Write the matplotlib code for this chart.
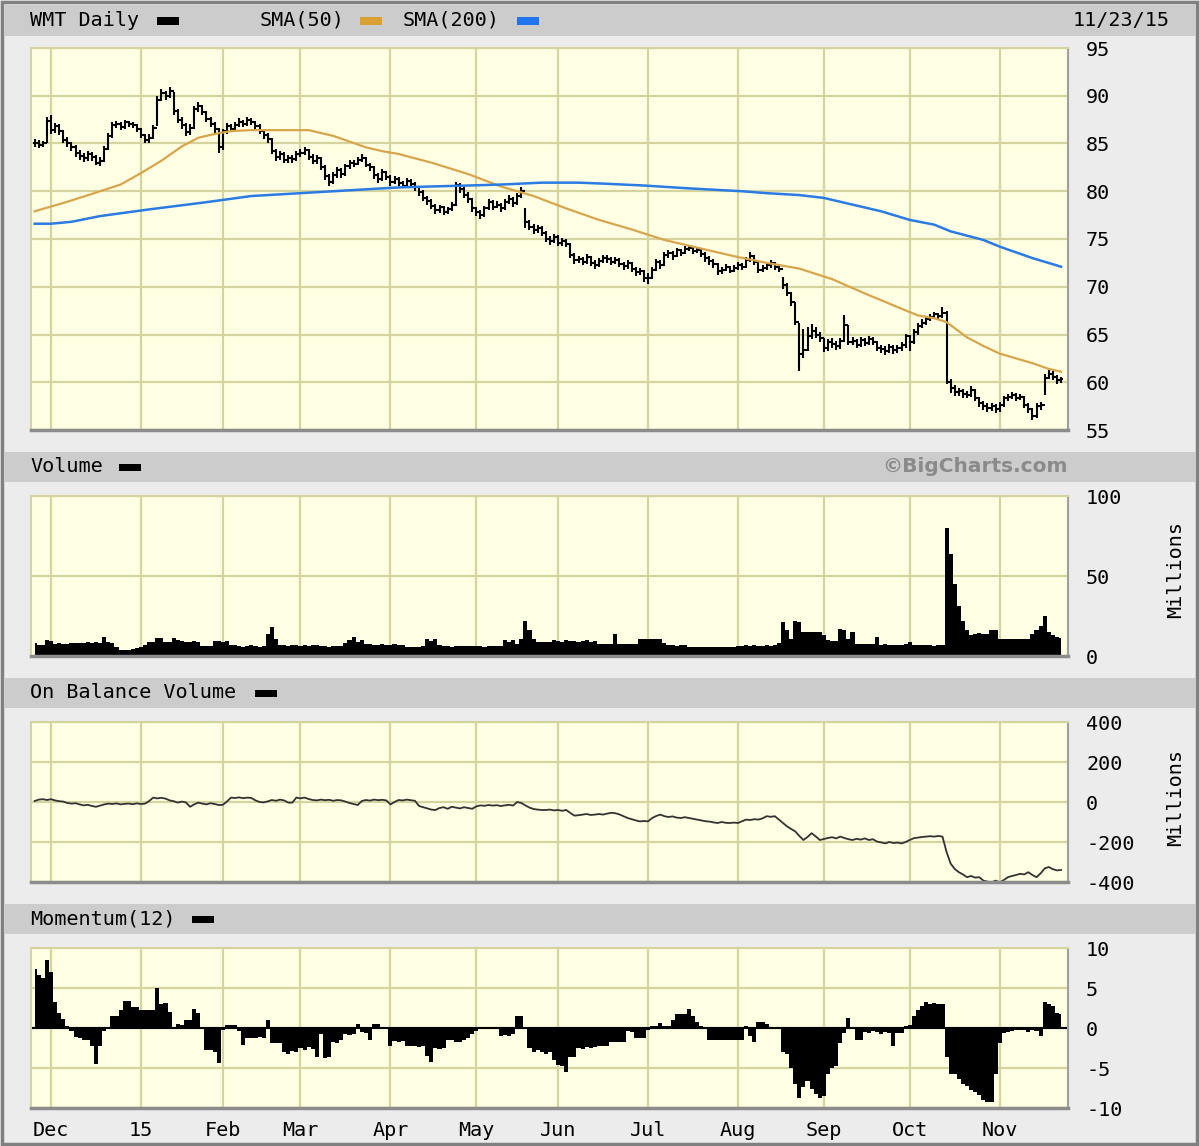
import matplotlib
matplotlib.use('Agg')
import matplotlib.pyplot as plt
from matplotlib.patches import Rectangle
import numpy as np
import pandas as pd

# trading calendar, Nov 24 2014 .. Nov 23 2015
holidays = ['2014-11-27', '2014-12-25', '2015-01-01', '2015-01-19', '2015-02-16',
            '2015-04-03', '2015-05-25', '2015-07-03', '2015-09-07']
days = pd.bdate_range('2014-11-24', '2015-11-23')
days = days[~days.isin(pd.to_datetime(holidays))]

month_starts = ['2014-12-01', '2015-01-01', '2015-02-01', '2015-03-01', '2015-04-01', '2015-05-01',
                '2015-06-01', '2015-07-01', '2015-08-01', '2015-09-01', '2015-10-01', '2015-11-01']
month_labels = ['Dec', '15', 'Feb', 'Mar', 'Apr', 'May', 'Jun', 'Jul', 'Aug', 'Sep', 'Oct', 'Nov']

# daily WMT prices
closes = [85.1, 84.8, 85.0, 87.4, 86.4, 86.8, 86.3, 85.4, 85.0, 84.6,
          84.0, 83.7, 83.5, 83.9, 83.6, 83.0, 83.2, 84.4, 85.8, 86.9,
          87.0, 86.7, 87.2, 87.0, 86.9, 86.5, 85.9, 85.4, 85.6, 86.6,
          89.6, 90.3, 90.0, 90.5, 88.4, 87.5, 86.9, 86.2, 86.6, 88.6,
          88.9, 88.3, 87.6, 87.0, 86.5, 84.6, 86.3, 86.8, 86.5, 86.9,
          87.3, 87.0, 87.5, 87.2, 86.8, 86.3, 85.9, 85.5, 84.2, 83.6,
          83.9, 83.3, 83.5, 83.4, 83.9, 84.0, 84.3, 83.6, 83.2, 83.5,
          82.5, 81.6, 81.0, 81.7, 82.2, 81.8, 82.6, 83.0, 82.9, 83.3,
          83.5, 82.8, 82.5, 81.7, 81.3, 82.0, 81.5, 81.0, 81.3, 80.9,
          80.6, 81.1, 80.8, 80.4, 79.9, 79.3, 79.0, 78.5, 78.0, 78.3,
          77.8, 78.1, 78.6, 80.7, 80.2, 79.6, 79.2, 78.2, 77.8, 77.5,
          78.2, 78.9, 78.4, 78.6, 78.2, 78.9, 79.2, 78.8, 79.5, 80.0,
          76.8, 76.3, 75.9, 76.2, 75.6, 75.0, 74.8, 75.2, 74.6, 74.8,
          74.5, 73.3, 72.8, 72.9, 72.6, 73.1, 72.5, 72.3, 72.7, 73.0,
          72.9, 72.6, 72.8, 72.4, 72.2, 72.5, 71.9, 71.5, 71.7, 70.9,
          70.9, 71.8, 72.6, 72.3, 73.3, 73.5, 73.2, 73.8, 73.5, 74.0,
          74.1, 73.7, 73.9, 73.4, 73.0, 72.7, 72.4, 71.6, 71.8, 72.1,
          71.7, 72.0, 72.3, 72.1, 72.8, 73.2, 72.6, 71.8, 72.0, 72.3,
          72.5, 72.1, 71.9, 70.2, 69.3, 68.4, 66.3, 63.0, 63.4, 64.8,
          65.4, 65.0, 64.6, 63.6, 64.2, 64.0, 63.8, 64.3, 66.0, 64.2,
          64.3, 63.9, 64.4, 64.1, 64.5, 64.2, 63.6, 63.5, 63.3, 63.7,
          63.4, 63.6, 63.9, 64.8, 64.2, 65.3, 65.9, 66.2, 66.6, 66.8,
          67.1, 66.9, 67.3, 60.0, 59.4, 59.0, 59.1, 58.8, 58.7, 59.2,
          58.3, 57.8, 57.5, 57.3, 57.5, 57.2, 57.6, 58.3, 58.5, 58.7,
          58.4, 58.5, 57.6, 57.2, 56.5, 57.5, 57.6, 60.4, 60.9, 60.6,
          60.2, 60.3]

highs = [85.5, 85.4, 85.3, 87.8, 88.0, 87.1, 87.0, 86.4, 85.7, 85.2,
         84.8, 84.3, 84.0, 84.2, 84.1, 83.8, 83.6, 84.7, 86.1, 87.2,
         87.4, 87.2, 87.5, 87.4, 87.3, 87.0, 86.6, 86.0, 86.0, 86.9,
         90.0, 90.7, 90.5, 90.9, 90.4, 88.6, 87.8, 87.1, 87.0, 88.9,
         89.3, 89.0, 88.4, 87.8, 87.2, 86.6, 86.5, 87.1, 87.0, 87.2,
         87.7, 87.5, 87.8, 87.7, 87.4, 87.0, 86.5, 86.1, 85.6, 84.4,
         84.2, 84.1, 83.8, 83.8, 84.2, 84.4, 84.6, 84.4, 83.9, 83.8,
         83.6, 82.7, 81.8, 82.0, 82.5, 82.4, 82.9, 83.3, 83.3, 83.6,
         83.9, 83.6, 83.0, 82.6, 81.9, 82.3, 82.1, 81.7, 81.6, 81.5,
         81.1, 81.4, 81.3, 81.0, 80.6, 80.1, 79.5, 79.2, 78.7, 78.6,
         78.5, 78.4, 78.9, 81.0, 80.9, 80.4, 79.9, 79.3, 78.4, 78.0,
         78.5, 79.2, 79.1, 79.0, 78.8, 79.2, 79.6, 79.4, 79.8, 80.4,
         78.2, 77.0, 76.6, 76.5, 76.4, 75.8, 75.3, 75.5, 75.4, 75.1,
         75.0, 74.6, 73.5, 73.2, 73.1, 73.4, 73.2, 72.8, 73.0, 73.3,
         73.3, 73.1, 73.1, 73.0, 72.6, 72.8, 72.6, 72.1, 72.0, 71.8,
         71.4, 72.1, 72.9, 72.8, 73.6, 73.9, 73.7, 74.1, 74.0, 74.3,
         74.4, 74.2, 74.2, 74.0, 73.6, 73.2, 72.9, 72.5, 72.1, 72.4,
         72.2, 72.3, 72.6, 72.5, 73.1, 73.6, 73.3, 72.7, 72.3, 72.6,
         72.8, 72.6, 72.4, 71.0, 70.4, 69.4, 68.4, 66.2, 65.6, 65.8,
         66.1, 65.8, 65.3, 64.6, 64.5, 64.6, 64.3, 64.6, 67.0, 66.0,
         64.7, 64.5, 64.7, 64.6, 64.8, 64.7, 64.3, 63.9, 63.8, 64.0,
         63.9, 63.9, 64.2, 65.1, 65.0, 65.6, 66.2, 66.6, 66.9, 67.1,
         67.4, 67.3, 67.9, 67.5, 60.3, 59.7, 59.4, 59.3, 59.1, 59.6,
         59.3, 58.5, 58.0, 57.8, 57.8, 57.7, 57.9, 58.6, 58.8, 59.0,
         58.9, 58.8, 58.6, 57.8, 57.3, 57.8, 57.9, 60.9, 61.3, 61.2,
         60.8, 60.6]

lows = [84.6, 84.5, 84.6, 85.0, 86.0, 86.1, 85.9, 85.1, 84.6, 84.2,
        83.6, 83.3, 83.1, 83.2, 83.2, 82.7, 82.6, 83.1, 84.3, 85.6,
        86.6, 86.4, 86.5, 86.7, 86.6, 86.2, 85.6, 85.0, 85.1, 85.5,
        86.8, 89.4, 89.6, 89.8, 88.0, 87.1, 86.5, 85.8, 85.9, 86.5,
        88.3, 88.0, 87.3, 86.7, 86.1, 84.0, 84.3, 86.0, 86.2, 86.3,
        86.7, 86.7, 86.8, 86.9, 86.5, 86.0, 85.5, 85.1, 83.9, 83.2,
        83.3, 83.0, 83.0, 83.0, 83.2, 83.6, 83.8, 83.3, 82.9, 82.9,
        82.2, 81.2, 80.5, 80.8, 81.4, 81.4, 81.6, 82.3, 82.5, 82.7,
        83.1, 82.5, 82.1, 81.3, 80.9, 81.1, 81.2, 80.6, 80.8, 80.5,
        80.3, 80.4, 80.5, 80.0, 79.5, 79.0, 78.6, 78.1, 77.6, 77.7,
        77.5, 77.6, 77.9, 78.5, 79.8, 79.3, 78.8, 77.8, 77.4, 77.1,
        77.3, 78.0, 78.0, 78.2, 77.8, 78.0, 78.7, 78.4, 78.6, 79.3,
        76.2, 75.9, 75.5, 75.6, 75.3, 74.7, 74.4, 74.6, 74.3, 74.3,
        74.2, 73.0, 72.4, 72.5, 72.3, 72.4, 72.2, 71.9, 72.1, 72.5,
        72.5, 72.3, 72.4, 72.1, 71.8, 71.9, 71.5, 71.1, 71.2, 70.5,
        70.3, 70.8, 71.7, 71.9, 72.2, 73.0, 72.8, 73.1, 73.2, 73.4,
        73.7, 73.4, 73.5, 73.1, 72.6, 72.3, 72.0, 71.2, 71.3, 71.6,
        71.4, 71.5, 71.8, 71.8, 72.0, 72.6, 72.3, 71.4, 71.5, 71.8,
        72.0, 71.8, 71.5, 69.8, 69.0, 68.0, 66.0, 61.2, 62.5, 63.3,
        64.5, 64.6, 64.2, 63.2, 63.3, 63.6, 63.4, 63.5, 64.2, 63.9,
        63.9, 63.6, 63.7, 63.8, 63.9, 63.9, 63.3, 63.1, 62.9, 63.1,
        63.0, 63.1, 63.3, 63.6, 63.3, 64.0, 65.0, 65.7, 66.0, 66.4,
        66.6, 66.5, 66.7, 59.8, 58.9, 58.6, 58.6, 58.4, 58.3, 58.5,
        58.0, 57.4, 57.1, 56.9, 57.0, 56.8, 56.9, 57.4, 58.0, 58.2,
        58.0, 58.1, 57.3, 56.8, 56.0, 56.3, 57.1, 58.7, 60.3, 60.2,
        59.8, 59.9]

# moving averages, read at a few dates
sma50_dates = ['2014-11-24', '2014-12-01', '2014-12-05', '2014-12-17', '2014-12-24', '2015-01-02',
               '2015-01-09', '2015-01-16', '2015-01-23', '2015-01-29', '2015-02-04', '2015-02-11',
               '2015-03-04', '2015-03-06', '2015-03-12', '2015-03-18', '2015-03-24', '2015-03-30',
               '2015-04-06', '2015-04-16', '2015-04-29', '2015-05-11', '2015-05-21', '2015-06-03',
               '2015-06-15', '2015-06-25', '2015-07-08', '2015-07-21', '2015-07-31', '2015-08-12',
               '2015-08-24', '2015-09-03', '2015-09-16', '2015-09-29', '2015-10-05', '2015-10-09',
               '2015-10-14', '2015-10-21', '2015-10-27', '2015-11-02', '2015-11-06', '2015-11-12',
               '2015-11-18', '2015-11-23']
sma50 = [77.9, 78.4, 78.9, 80.0, 80.7, 81.9, 83.2, 84.7, 85.6, 86.0, 86.3, 86.4,
         86.4, 86.2, 85.8, 85.2, 84.6, 84.2, 83.9, 83.0, 81.8, 80.5, 79.5, 78.2,
         77.0, 76.0, 74.9, 74.0, 73.2, 72.5, 71.9, 70.8, 69.3, 67.7, 67.0, 66.7,
         66.3, 64.7, 63.8, 63.0, 62.5, 62.0, 61.4, 61.1]

sma200_dates = ['2014-11-24', '2014-12-01', '2014-12-08', '2014-12-17', '2015-01-06', '2015-01-26',
                '2015-02-11', '2015-03-02', '2015-03-18', '2015-04-06', '2015-04-16', '2015-04-29',
                '2015-05-11', '2015-05-26', '2015-06-08', '2015-06-16', '2015-06-30', '2015-07-16',
                '2015-08-04', '2015-08-12', '2015-08-24', '2015-09-01', '2015-09-10', '2015-09-22',
                '2015-10-01', '2015-10-09', '2015-10-15', '2015-10-27', '2015-11-02', '2015-11-12',
                '2015-11-23']
sma200 = [76.6, 76.6, 76.8, 77.4, 78.1, 78.8, 79.5, 79.8, 80.1, 80.4, 80.5, 80.6,
          80.7, 80.9, 80.9, 80.8, 80.6, 80.3, 80.0, 79.8, 79.6, 79.3, 78.7, 77.9,
          77.0, 76.5, 75.8, 74.9, 74.2, 73.0, 72.1]

# volume, millions
volume = [8.3, 7.0, 6.6, 9.7, 9.5, 7.6, 8.3, 7.2, 7.4, 8.0,
          8.3, 8.0, 8.3, 8.5, 8.2, 8.6, 8.3, 11.8, 9.0, 8.2,
          5.6, 3.9, 3.9, 4.0, 4.2, 5.0, 5.6, 7.0, 8.7, 8.5,
          11.2, 11.0, 8.7, 8.8, 11.4, 9.7, 9.5, 9.0, 8.7, 9.2,
          8.8, 6.2, 6.2, 6.3, 9.3, 9.3, 9.0, 9.3, 6.6, 6.6,
          6.0, 5.6, 6.4, 6.6, 6.2, 5.6, 6.0, 13.8, 18.0, 10.7,
          6.6, 6.8, 6.4, 6.6, 6.9, 6.5, 6.6, 6.3, 6.7, 6.6,
          6.0, 6.2, 5.8, 6.0, 6.1, 6.0, 8.0, 9.7, 11.8, 9.0,
          9.7, 7.6, 7.4, 6.6, 7.0, 7.6, 6.8, 6.6, 7.2, 6.6,
          6.8, 5.6, 5.6, 5.8, 5.6, 6.5, 10.7, 9.5, 10.7, 7.0,
          6.0, 6.2, 5.9, 6.0, 6.3, 6.0, 6.1, 6.0, 6.0, 6.2,
          5.8, 6.0, 6.3, 6.0, 6.1, 9.7, 8.5, 9.7, 7.5, 10.5,
          22.0, 16.0, 10.7, 8.7, 8.7, 8.5, 8.7, 10.0, 9.5, 9.0,
          9.8, 9.2, 9.6, 9.0, 9.4, 9.8, 9.0, 9.3, 7.6, 7.6,
          7.8, 7.6, 13.8, 7.6, 7.4, 7.6, 7.8, 7.6, 10.7, 10.5,
          10.7, 10.7, 10.4, 10.7, 8.0, 6.6, 6.6, 6.4, 6.6, 6.6,
          5.6, 5.8, 5.6, 5.5, 5.6, 5.8, 5.6, 5.6, 5.7, 5.6,
          5.8, 5.6, 6.5, 6.4, 6.6, 6.5, 6.7, 6.5, 6.4, 6.6,
          6.5, 6.6, 8.0, 21.0, 16.0, 10.7, 22.0, 21.0, 15.0, 15.2,
          15.0, 14.8, 15.0, 12.9, 9.7, 9.5, 9.5, 17.0, 16.0, 10.7,
          14.9, 7.6, 7.6, 7.8, 7.6, 7.4, 11.8, 7.0, 7.2, 7.0,
          7.0, 6.8, 7.0, 7.2, 9.0, 6.6, 6.6, 6.8, 6.6, 6.6,
          6.4, 6.6, 6.6, 80.0, 64.0, 45.0, 31.0, 22.0, 16.0, 13.0,
          14.0, 14.2, 14.0, 14.0, 16.0, 16.0, 10.5, 10.7, 10.4, 10.5,
          10.6, 10.5, 10.7, 10.4, 14.0, 16.0, 19.0, 25.0, 15.0, 13.0,
          12.0, 11.0]

# on balance volume, millions
obv = [5, 12, 14, 10, 14, 8, 4, 2, -5, -8,
       -6, -12, -17, -14, -20, -24, -18, -12, -8, -10,
       -7, -12, -9, -8, -11, -7, -10, -8, 5, 22,
       18, 21, 17, 8, 4, -3, 2, -2, -24, -12,
       -3, -8, -12, -6, -10, -15, -14, 2, 22, 20,
       23, 19, 22, 20, 8, 0, -2, 3, 10, 6,
       12, 8, -3, -3, 22, 18, 22, 15, 10, 8,
       12, 9, 11, 6, 10, 8, 2, -5, -10, -15,
       5, 10, 7, 12, 9, 11, 8, -12, 0, 10,
       8, 12, 9, 6, -20, -26, -32, -38, -40, -30,
       -26, -34, -24, -28, -32, -26, -30, -34, -22, -17,
       -19, -15, -18, -16, -20, -17, -14, -18, 0, -5,
       -17, -28, -35, -38, -40, -40, -38, -42, -40, -44,
       -40, -55, -68, -66, -63, -60, -65, -63, -60, -63,
       -58, -54, -56, -62, -71, -80, -86, -92, -97, -95,
       -97, -80, -70, -63, -71, -75, -72, -78, -80, -76,
       -80, -84, -88, -92, -96, -98, -102, -105, -100, -104,
       -105, -103, -105, -96, -88, -90, -86, -88, -82, -71,
       -74, -71, -88, -105, -122, -135, -147, -170, -190, -175,
       -156, -172, -190, -185, -180, -176, -182, -173, -180, -186,
       -190, -184, -188, -182, -190, -186, -198, -202, -207, -200,
       -205, -203, -207, -200, -190, -181, -178, -175, -173, -171,
       -173, -170, -173, -250, -308, -335, -351, -362, -376, -370,
       -378, -376, -393, -398, -402, -393, -402, -390, -376, -370,
       -365, -359, -362, -351, -365, -376, -357, -332, -325, -336,
       -342, -340]

# momentum(12)
momentum = [7.4, 6.6, 6.2, 8.5, 7.0, 3.2, 1.9, 1.1, 0.2, -0.4,
            -1.1, -1.3, -1.5, -1.5, -2.3, -4.5, -2.3, -0.4, 0.0, 1.5,
            1.5, 2.3, 3.4, 3.4, 2.6, 2.6, 2.3, 2.3, 2.3, 2.3,
            5.0, 3.0, 3.1, 2.0, 0.0, 0.5, 0.4, 1.0, 1.0, 2.4,
            1.9, 0.0, -2.8, -2.8, -3.0, -4.4, -0.3, 0.4, 0.4, 0.4,
            -0.4, -2.1, -1.2, -1.3, -1.2, -1.1, -1.2, 1.0, -1.9, -1.9,
            -1.9, -3.0, -3.2, -2.9, -3.0, -2.5, -2.7, -2.4, -2.6, -3.6,
            -0.8, -3.7, -3.6, -1.8, -1.9, -1.5, -0.8, -0.9, -0.7, 0.5,
            -0.5, -0.6, -1.5, 0.5, 0.5, 0.1, 0.0, -2.3, -1.6, -1.7,
            -1.6, -2.3, -2.2, -2.3, -2.4, -2.3, -3.5, -4.2, -2.5, -2.6,
            -2.5, -1.5, -1.5, -1.8, -1.7, -1.5, -1.2, -0.8, -0.4, 0.0,
            0.1, 0.0, -0.1, 0.0, -1.0, -0.9, -1.0, -0.8, 1.5, 1.5,
            0.0, -2.5, -3.0, -2.8, -3.0, -3.2, -3.0, -4.0, -4.6, -4.8,
            -5.5, -3.6, -3.6, -2.5, -2.6, -2.4, -2.5, -2.4, -2.3, -2.2,
            -2.3, -1.8, -1.8, -1.7, -1.8, -0.4, -0.5, -1.2, -1.2, -1.3,
            -0.2, 0.2, 0.2, 0.6, 0.2, 0.2, 1.0, 1.7, 1.7, 1.7,
            2.4, 1.5, 0.8, 0.2, 0.0, -1.5, -1.5, -1.5, -1.5, -1.5,
            -1.5, -1.5, -1.5, -1.5, 0.3, -1.0, -1.7, 0.8, 0.8, 0.5,
            0.0, 0.0, 0.0, -3.0, -3.2, -5.0, -7.0, -8.7, -7.4, -6.6,
            -7.6, -8.3, -8.7, -8.5, -5.7, -5.0, -4.7, -1.9, -0.6, 1.2,
            0.0, -1.5, -1.5, -0.5, -0.6, -0.4, -0.5, -0.7, -0.5, -0.6,
            -2.3, -0.6, -0.6, 0.3, 0.4, 1.5, 2.3, 2.8, 3.2, 3.0,
            3.1, 3.0, 3.0, -3.6, -5.7, -5.8, -6.4, -7.0, -7.2, -7.8,
            -8.0, -8.4, -9.0, -9.3, -9.2, -5.7, -1.9, -0.6, -0.5, -0.4,
            -0.3, -0.2, -0.3, -0.5, -0.3, -0.4, -1.0, 3.3, 3.0, 2.7,
            1.9, 1.8]

# ---- layout (pixels) ----
W, H = 1200, 1146
MONO = 'DejaVu Sans Mono'
FS = 14.5
PLOT_BG = '#ffffe4'
GRID = '#d6d49e'
plt.rcParams['axes.unicode_minus'] = False

fig = plt.figure(figsize=(W / 100, H / 100), dpi=100, facecolor='#ececec')

x = np.arange(len(days))
month_pos = days.searchsorted(pd.to_datetime(month_starts))


def box(x0, y0, x1, y1, **kw):
    fig.add_artist(Rectangle((x0 / W, 1 - y1 / H), (x1 - x0) / W, (y1 - y0) / H,
                             transform=fig.transFigure, **kw))


def swatch(x0, y, color):
    box(x0, y - 3, x0 + 22, y + 4, facecolor=color, edgecolor='none')


def header(y0, y1, title, sw_x):
    box(5, y0, 1196, y1, facecolor='#cccccc', edgecolor='none')
    yc = (y0 + y1) / 2
    fig.text(30 / W, 1 - yc / H, title, family=MONO, fontsize=FS, va='center', ha='left')
    swatch(sw_x, yc, 'black')
    return yc


def panel(y0, y1, ylim, yticks):
    ax = fig.add_axes([31 / W, 1 - y1 / H, 1037 / W, (y1 - y0) / H])
    ax.set_facecolor(PLOT_BG)
    ax.set_xlim(-0.9, 252.7)
    ax.set_ylim(*ylim)
    ax.set_yticks(yticks)
    ax.set_xticks(month_pos)
    ax.set_xticklabels([])
    ax.yaxis.tick_right()
    ax.tick_params(length=0, labelsize=FS, pad=13)
    for lab in ax.get_yticklabels():
        lab.set_family(MONO)
    ax.grid(True, color=GRID, lw=1.6)
    ax.set_axisbelow(True)
    ax.spines['top'].set_color(GRID)
    ax.spines['left'].set_color(GRID)
    ax.spines['top'].set_linewidth(1.5)
    ax.spines['left'].set_linewidth(1.5)
    ax.spines['bottom'].set_color('#8c8c8c')
    ax.spines['bottom'].set_linewidth(2.5)
    ax.spines['right'].set_color('#a0a0a0')
    ax.spines['right'].set_linewidth(1.5)
    return ax


# outer frame
box(2, 2, 1197, 1144, facecolor='none', edgecolor='#808080', lw=2.5)

# --- price panel ---
yc = header(5, 36, 'WMT Daily', 157)
fig.text(260 / W, 1 - yc / H, 'SMA(50)', family=MONO, fontsize=FS, va='center')
swatch(360, yc, '#d9a033')
fig.text(403 / W, 1 - yc / H, 'SMA(200)', family=MONO, fontsize=FS, va='center')
swatch(517, yc, '#1f74f0')
fig.text(1170 / W, 1 - yc / H, '11/23/15', family=MONO, fontsize=FS, va='center', ha='right')

ax1 = panel(48, 430, (55, 95), range(55, 100, 5))
opens = [closes[0]] + closes[:-1]
ax1.vlines(x, lows, highs, color='black', lw=1.5)
ax1.hlines(closes, x, x + 0.5, color='black', lw=1.5)
ax1.hlines(opens, x - 0.5, x, color='black', lw=1.5)
ax1.plot(days.get_indexer(pd.to_datetime(sma50_dates)), sma50, color='#d9a54c', lw=1.6)
ax1.plot(days.get_indexer(pd.to_datetime(sma200_dates)), sma200, color='#2a7be4', lw=1.8)

# --- volume panel ---
header(452, 482, 'Volume', 119)
fig.text(1068 / W, 1 - 467 / H, '\u00a9BigCharts.com', family='DejaVu Sans', fontweight='bold',
         fontsize=14.5, color='#8a8a8a', va='center', ha='right')
ax2 = panel(496, 656, (0, 100), [0, 50, 100])
ax2.fill_between(x, volume, 0, step='mid', color='black', lw=0)
fig.text(1176 / W, 1 - 570 / H, 'Millions', family=MONO, fontsize=FS, rotation=90,
         va='center', ha='center')

# --- OBV panel ---
header(678, 708, 'On Balance Volume', 255)
ax3 = panel(722, 882, (-400, 400), [-400, -200, 0, 200, 400])
ax3.plot(x, obv, color='#333333', lw=1.3)
fig.text(1176 / W, 1 - 797 / H, 'Millions', family=MONO, fontsize=FS, rotation=90,
         va='center', ha='center')

# --- momentum panel ---
header(904, 934, 'Momentum(12)', 192)
ax4 = panel(948, 1108, (-10, 10), [-10, -5, 0, 5, 10])
ax4.fill_between(x, momentum, 0, step='mid', color='black', lw=0)
ax4.axhline(0, color='black', lw=1.5)
ax4.set_xticklabels(month_labels, family=MONO, fontsize=FS)
ax4.tick_params(axis='x', pad=9)

fig.savefig('out.png', dpi=100, facecolor=fig.get_facecolor())
